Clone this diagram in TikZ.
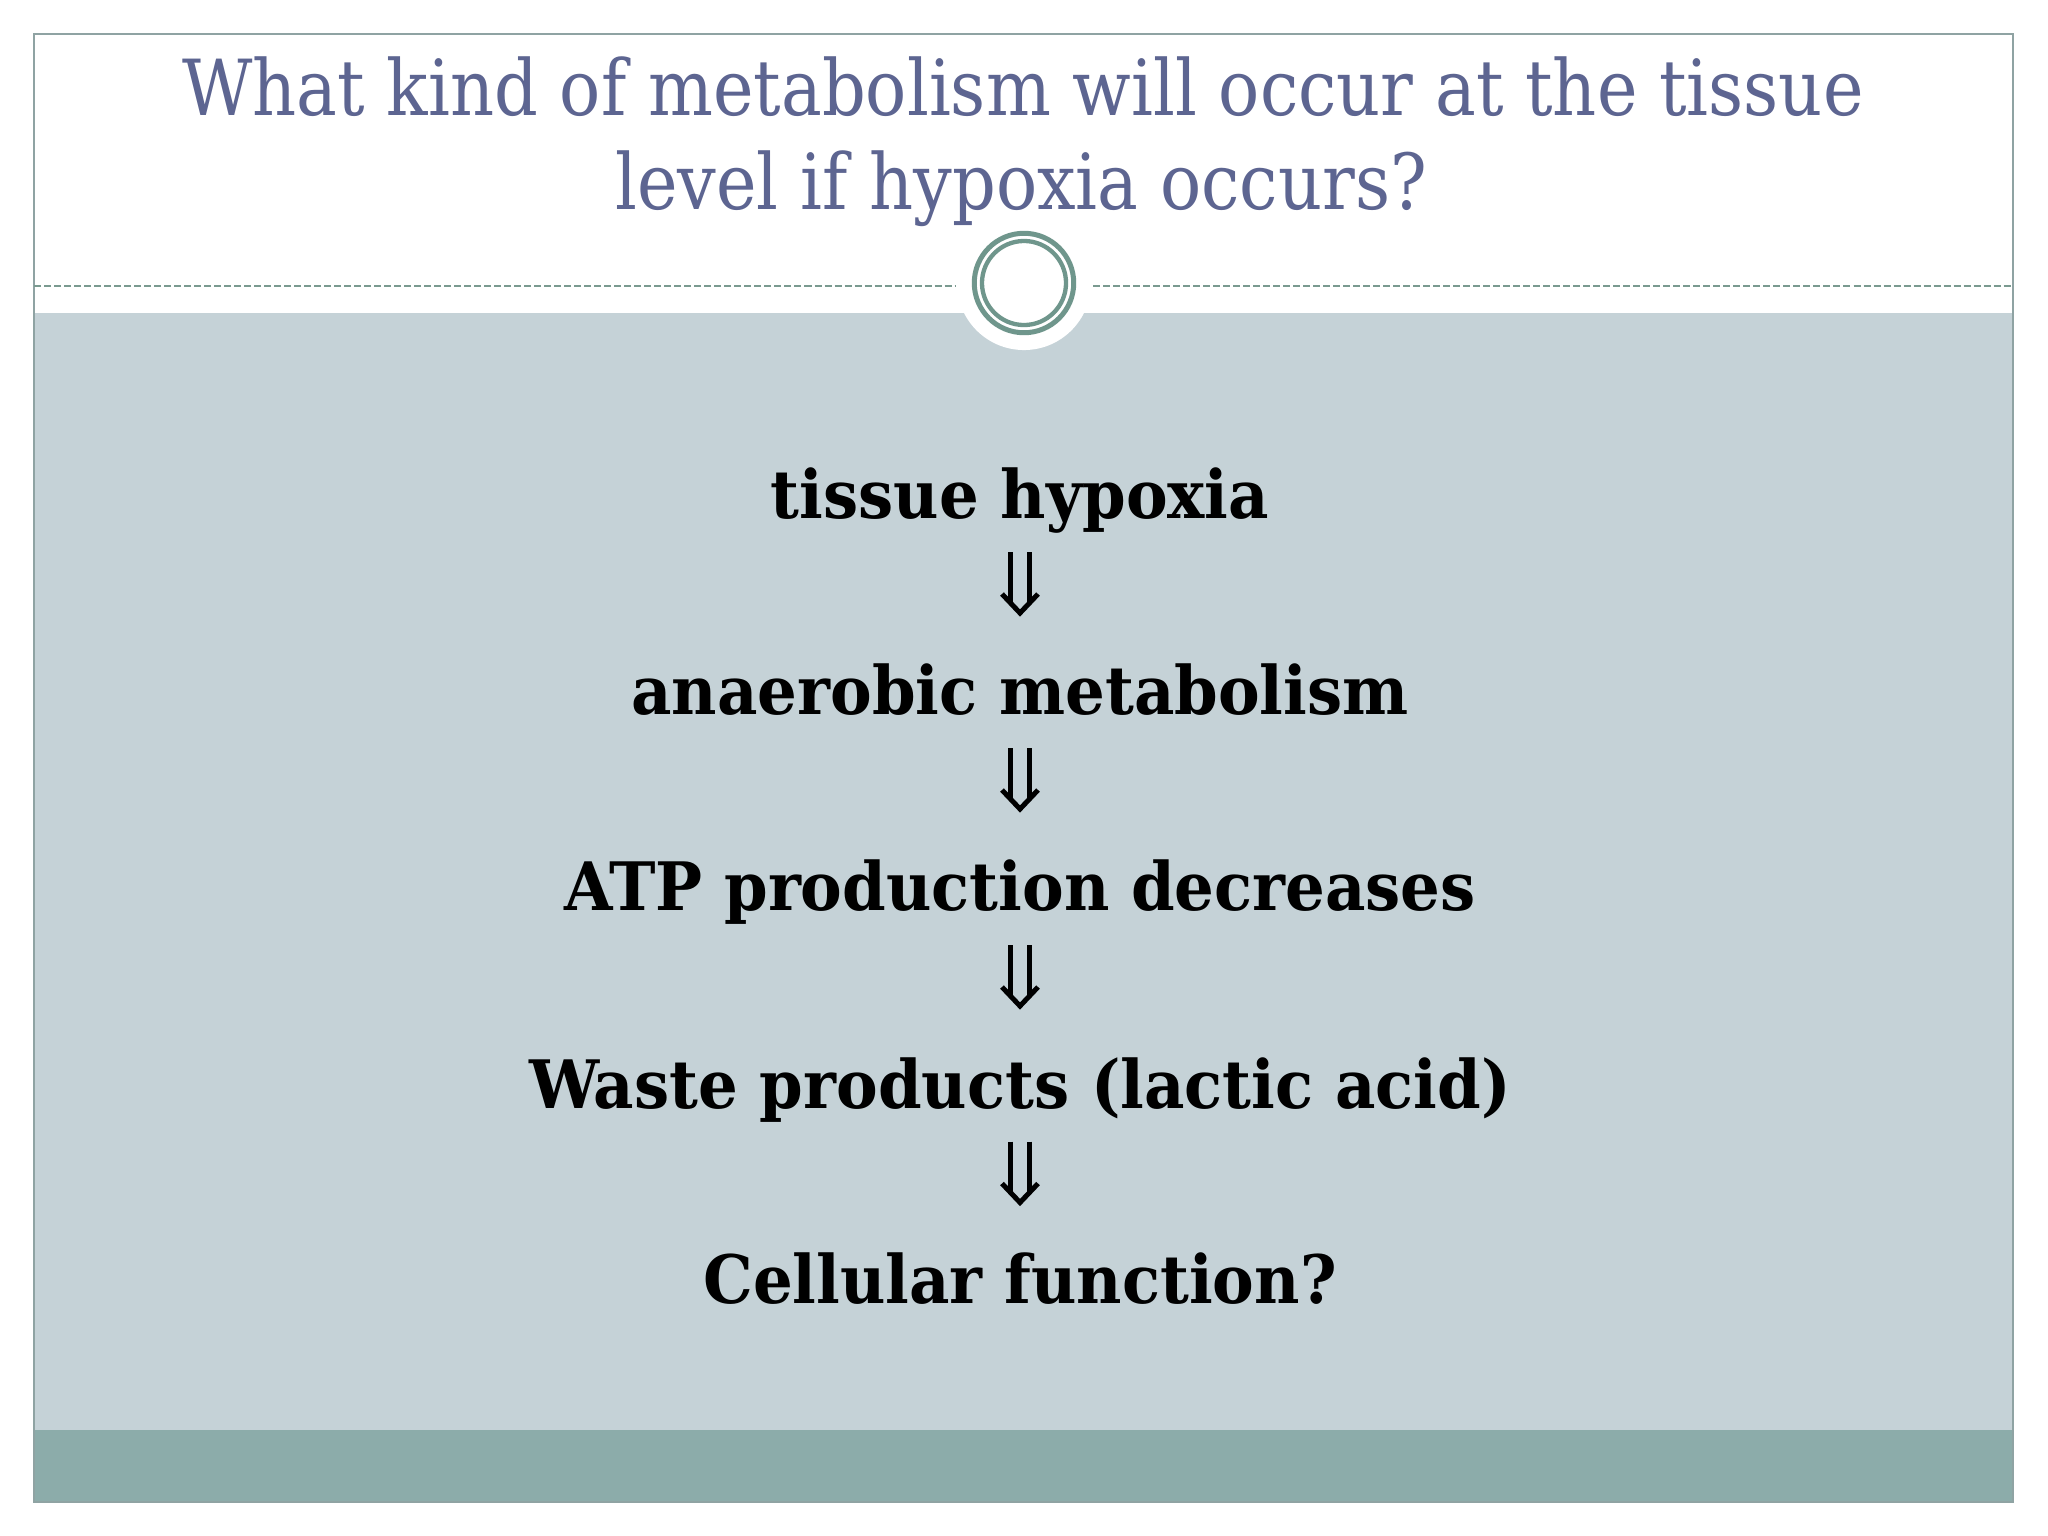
\documentclass[tikz,border=0pt]{standalone}
\usepackage{graphicx}
\usepackage{fontspec}
\setmainfont{DejaVu Serif}
\usetikzlibrary{calc}
\definecolor{titlec}{HTML}{5D6591}
\definecolor{greyc}{HTML}{C5D2D7}
\definecolor{bandc}{HTML}{8CACAA}
\definecolor{framec}{HTML}{8FA3A3}
\definecolor{ringc}{HTML}{6F968C}
\definecolor{dashc}{HTML}{7A9A90}
\newcommand{\ttlbox}[1]{\scalebox{0.885}[1]{#1}}
\newcommand{\bodybox}[1]{\scalebox{0.935}[1]{#1}}
\tikzset{
  titletext/.style={anchor=base, inner sep=0pt, text=titlec, font=\fontsize{22}{26}\selectfont},
  bodytext/.style={anchor=base, inner sep=0pt, text=black, font=\fontsize{19}{23}\selectfont\bfseries},
  dblarrow/.pic={
    \draw[black, line width=0.05cm] (-9.5,-64) -- (-9.5,-12);
    \draw[black, line width=0.05cm] (9.5,-64) -- (9.5,-12);
    \draw[black, line width=0.05cm, miter limit=10] (-18,-22) -- (0,-3) -- (18,-22);
  }
}
\begin{document}
\begin{tikzpicture}[x=0.01cm, y=-0.01cm]
\useasboundingbox (0,0) rectangle (2048,1536);
\fill[white] (0,0) rectangle (2048,1536);
\fill[greyc] (34,313) rectangle (2013,1430);
\fill[bandc] (34,1430) rectangle (2013,1502);
\draw[framec, line width=0.025cm] (34,34) rectangle (2013,1502);
\draw[dashc, line width=0.015cm, dash pattern=on 0.07cm off 0.03cm] (34,286) -- (955,286);
\draw[dashc, line width=0.015cm, dash pattern=on 0.07cm off 0.03cm] (1093,286) -- (2013,286);
\fill[white] (1024,283) circle[radius=0.67cm];
\draw[ringc, line width=0.05cm] (1024,283) circle[radius=0.497cm];
\draw[ringc, line width=0.043cm] (1024,283) circle[radius=0.42cm];
\node[titletext] (title1) at (1023,115) {\ttlbox{What kind of metabolism will occur at the tissue}};
\node[titletext] (title2) at (1021,209) {\ttlbox{level if hypoxia occurs?}};
\node[bodytext] (s1) at (1020,518) {\bodybox{tissue hypoxia}};
\node[bodytext] (s2) at (1020,714) {\bodybox{anaerobic metabolism}};
\node[bodytext] (s3) at (1020,910) {\bodybox{ATP production decreases}};
\node[bodytext] (s4) at (1020,1108) {\bodybox{Waste products (lactic acid)}};
\node[bodytext] (s5) at (1020,1303) {\bodybox{Cellular function?}};
\foreach \a/\b in {s1/s2, s2/s3, s3/s4, s4/s5}
  \path ($(\a.base)!0.5!(\b.base)$) pic {dblarrow};
\end{tikzpicture}
\end{document}
